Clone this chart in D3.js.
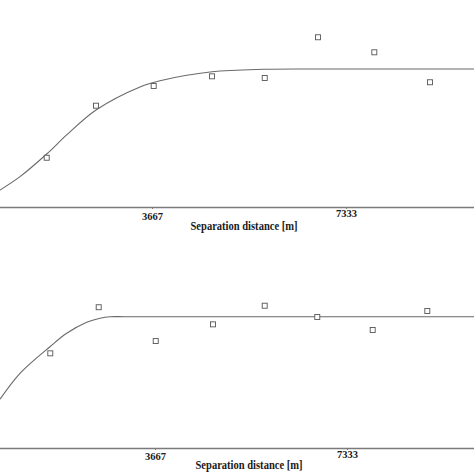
<!DOCTYPE html>
<html>
<head>
<meta charset="utf-8">
<script src="https://d3js.org/d3.v7.min.js"></script>
<style>
  body { margin: 0; background: #fff; }
  svg { display: block; }
  .lbl { font-family: "Liberation Serif", "Times New Roman", serif; font-weight: bold; fill: #1a1a1a; }
</style>
</head>
<body>
<svg id="chart" width="474" height="474"></svg>
<script>
// ---- data (separation distance in m, semivariance) ----
const tickValues = [3667, 7333];
const axisTitle = "Separation distance [m]";

// top panel (gaussian-like model)
const topLagH = [1676, 2608, 3698, 4800, 5796, 6803, 7867, 8919];
const topGamma = [0.357, 0.734, 0.877, 0.947, 0.935, 1.230, 1.121, 0.904];
const topModelH = [794, 1172, 1676, 2054, 2608, 3439, 3817, 4800, 5796, 6803, 8200, 9751];
const topModelG = [0.123, 0.220, 0.384, 0.522, 0.703, 0.870, 0.915, 0.980, 0.998, 1.0, 1.0, 1.0];

// bottom panel (spherical-like model)
const botLagH = [1667, 2591, 3680, 4774, 5761, 6765, 7823, 8866];
const botGamma = [0.686, 1.020, 0.775, 0.896, 1.031, 0.949, 0.855, 0.993];
const botModelH = [707, 1088, 1661, 1980, 2362, 2616, 2807, 3100, 4500, 6500, 8000, 9758];
const botModelG = [0.353, 0.541, 0.734, 0.831, 0.911, 0.940, 0.951, 0.951, 0.951, 0.951, 0.951, 0.951];

const svg = d3.select("#chart");

function panel(cfg) {
  const g = svg.append("g");
  const x = d3.scaleLinear().domain([0, 10000]).range([cfg.x0, cfg.x0 + 10000 * cfg.k]);
  const y = d3.scaleLinear().domain([0, 1.5]).range([cfg.axisY, cfg.axisY - 207]);

  // axis
  const axis = d3.axisBottom(x).tickValues(tickValues).tickSizeInner(2).tickSizeOuter(0)
    .tickPadding(3).tickFormat(d => d);
  const ax = g.append("g").attr("transform", "translate(0," + cfg.axisY + ")").call(axis);
  ax.select(".domain").attr("stroke", "#7a7a7a").attr("stroke-width", 1.5);
  ax.selectAll(".tick line").attr("stroke", "#7a7a7a");
  ax.selectAll(".tick text")
    .attr("class", "lbl")
    .attr("font-size", "10.5px")
    .attr("dy", null)
    .attr("y", (d, i) => i === 0 ? cfg.lab1 : cfg.lab2);

  g.append("text")
    .attr("class", "lbl")
    .attr("x", cfg.titleX)
    .attr("y", cfg.axisY + cfg.titleDy)
    .attr("text-anchor", "middle")
    .attr("font-size", "12px")
    .attr("textLength", 107)
    .attr("lengthAdjust", "spacingAndGlyphs")
    .text(axisTitle);

  // model curve
  const line = d3.line().x(d => x(d[0])).y(d => y(d[1])).curve(d3.curveCatmullRom.alpha(0.5));
  g.append("path")
    .datum(d3.zip(cfg.mh, cfg.mg))
    .attr("fill", "none")
    .attr("stroke", "#6a6a6a")
    .attr("stroke-width", 1.1)
    .attr("d", line);

  // experimental points
  g.selectAll("rect.pt")
    .data(d3.zip(cfg.h, cfg.gm))
    .join("rect")
    .attr("class", "pt")
    .attr("x", d => x(d[0]) - 2.5)
    .attr("y", d => y(d[1]) - 2.5)
    .attr("width", 5)
    .attr("height", 5)
    .attr("fill", "#fff")
    .attr("stroke", "#555")
    .attr("stroke-width", 0.9);
}

panel({ x0: -42, k: 0.05292, axisY: 207, lab1: 13, lab2: 10, titleX: 244, titleDy: 23,
  h: topLagH, gm: topGamma, mh: topModelH, mg: topModelG });
panel({ x0: -37, k: 0.05237, axisY: 448, lab1: 12, lab2: 10, titleX: 249, titleDy: 21,
  h: botLagH, gm: botGamma, mh: botModelH, mg: botModelG });
</script>
</body>
</html>
